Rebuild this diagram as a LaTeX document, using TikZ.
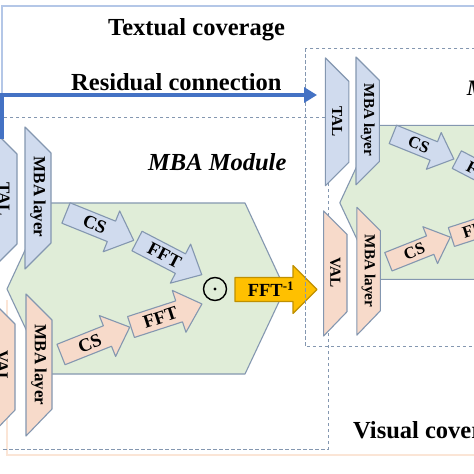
\documentclass[tikz,border=0pt]{standalone}
\usepackage{fontspec}
\setmainfont{Liberation Serif}
\usetikzlibrary{arrows.meta}
\definecolor{bluef}{HTML}{D0DBEE}
\definecolor{orgf}{HTML}{F7DACA}
\definecolor{greenf}{HTML}{E0EDD8}
\definecolor{bordc}{HTML}{8497B0}
\definecolor{dashc}{HTML}{8497B0}
\definecolor{resc}{HTML}{4472C4}
\definecolor{goldf}{HTML}{FFC000}
\definecolor{goldb}{HTML}{BF9000}
\definecolor{txtfr}{HTML}{B4C7E7}
\definecolor{visfr}{HTML}{FBE5D6}
\tikzset{
  bluebox/.style={draw=bordc, fill=bluef, line width=1.1pt, line join=round},
  orgbox/.style={draw=bordc, fill=orgf, line width=1.1pt, line join=round},
  goldbox/.style={draw=goldb, fill=goldf, line width=1.1pt, line join=round},
  hexa/.style={draw=bordc, fill=greenf, line width=1.1pt, line join=round},
  dashbox/.style={draw=dashc, line width=0.9pt, dash pattern=on 3.5pt off 2.5pt},
  lbl/.style={font=\fontsize{17}{17}\selectfont\bfseries, inner sep=0pt},
  albl/.style={font=\fontsize{18.5}{18.5}\selectfont\bfseries, inner sep=0pt},
  ttl/.style={font=\fontsize{24.5}{24.5}\selectfont\bfseries, inner sep=0pt},
  resline/.style={draw=resc, line width=3.5pt, -{Triangle[length=13pt,width=15pt]}},
}
\newcommand{\blockarr}[6]{%
  \begin{scope}[shift={#2}, rotate=#3]
    \draw[#1] (0,-11) -- ({#4-24},-11) -- ({#4-24},-22) -- (#4,0) -- ({#4-24},22) -- ({#4-24},11) -- (0,11) -- cycle;
    \node[albl, transform shape] (#5) at (31,0) {#6};
  \end{scope}}
\newcommand{\mbamod}[1]{%
  \draw[dashbox] (-31,-117) rectangle (328,-449);
  \draw[hexa] (47,-203) -- (245,-203) -- (285,-289) -- (245,-374) -- (47,-374) -- (7,-289) -- cycle;
  \draw[bluebox] (-9,-128) -- (17,-154) -- (17,-244) -- (-9,-270) -- cycle;
  \node[lbl, rotate=-90, transform shape] (#1tal) at (4,-199) {TAL};
  \draw[bluebox] (25,-127) -- (51,-153) -- (51,-243) -- (25,-269) -- cycle;
  \node[lbl, rotate=-90, transform shape] (#1mbat) at (38,-197) {MBA layer};
  \draw[orgbox] (-11,-298) -- (15,-324) -- (15,-410) -- (-11,-437) -- cycle;
  \node[lbl, rotate=-90, transform shape] (#1val) at (2,-367) {VAL};
  \draw[orgbox] (26,-294) -- (52,-320) -- (52,-409) -- (26,-436) -- cycle;
  \node[lbl, rotate=-90, transform shape] (#1mbav) at (39,-365) {MBA layer};
  \blockarr{bluebox}{(66,-213)}{-22}{73}{#1cst}{CS}
  \blockarr{bluebox}{(137,-241)}{-27.5}{73}{#1fftt}{FFT}
  \blockarr{orgbox}{(61,-354.5)}{21.7}{74}{#1csv}{CS}
  \blockarr{orgbox}{(131,-327)}{18}{74.6}{#1fftv}{FFT}
  \node[circle, draw=black, line width=1.4pt, minimum size=23pt, inner sep=0pt, transform shape] (#1odot) at (215,-289) {};
  \fill[black] (#1odot.center) circle (1.6);
  \begin{scope}[shift={(235,-289.5)}]
    \draw[goldbox] (0,-12) -- (58,-12) -- (58,-24) -- (82,0) -- (58,24) -- (58,12) -- (0,12) -- cycle;
    \node[albl, transform shape] (#1ifft) at (36,0) {FFT\textsuperscript{-1}};
  \end{scope}
  \node[ttl, anchor=base west, transform shape, font=\fontsize{24.5}{24.5}\selectfont\bfseries\itshape] (#1name) at (148,-170) {MBA Module};
}
\begin{document}
\begin{tikzpicture}[x=1pt, y=1pt]
  \useasboundingbox (0,0) rectangle (474,-474);
  \fill[white] (0,0) rectangle (474,-474);
  \clip (0,0) rectangle (474,-474);
  % coverage frames
  \draw[txtfr, line width=1.5pt] (2,-95) -- (2,-6) -- (474,-6);
  \draw[visfr, line width=1.5pt] (7,-300) -- (7,-455) -- (474,-455);
  % module 1
  \begin{scope}
    \mbamod{a}
  \end{scope}
  % module 2
  \begin{scope}[shift={(356,-57)}, scale=0.9, shift={(-25,127)}]
    \mbamod{b}
  \end{scope}
  % texts
  \node[ttl, anchor=base west] (textual) at (108,-35.7) {Textual coverage};
  \node[ttl, anchor=base west] (residual) at (71,-90) {Residual connection};
  \node[ttl, anchor=base west] (visual) at (353,-438) {Visual coverage};
  % residual connection
  \coordinate (resstart) at (2,-139);
  \coordinate (rescorner) at (2,-95);
  \coordinate (resend) at (317,-95);
  \draw[resline] (resstart) -- (rescorner) -- (resend);
\end{tikzpicture}
\end{document}
